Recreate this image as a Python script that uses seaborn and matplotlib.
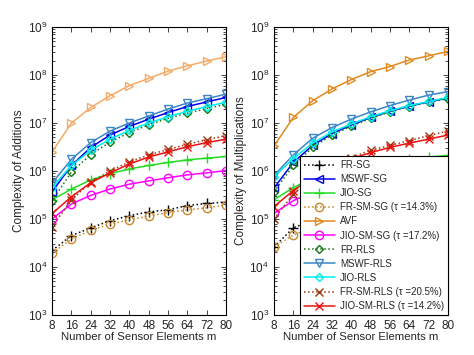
# Import libraries
import numpy as np
import seaborn as sns
import matplotlib
matplotlib.use("Agg")
import matplotlib.pyplot as plt
from matplotlib.ticker import FixedLocator, NullFormatter

# Data
m = [8, 16, 24, 32, 40, 48, 56, 64, 72, 80]

labels = ["FR-SG", "MSWF-SG", "JIO-SG", "FR-SM-SG (\u03c4 =14.3%)", "AVF",
          "JIO-SM-SG (\u03c4 =17.2%)", "FR-RLS", "MSWF-RLS", "JIO-RLS",
          "FR-SM-RLS (\u03c4 =20.5%)", "JIO-SM-RLS (\u03c4 =14.2%)"]

# Complexity of additions
add_fr_sg = [2.2e4, 4.5e4, 6.5e4, 9.2e4, 1.17e5, 1.4e5, 1.55e5, 1.9e5, 2.1e5, 2.25e5]
add_mswf_sg = [3.7e5, 1.3e6, 3.1e6, 5.6e6, 8.5e6, 1.2e7, 1.65e7, 2.2e7, 2.75e7, 3.4e7]
add_jio_sg = [2.5e5, 4.2e5, 6.5e5, 8.8e5, 1.1e6, 1.3e6, 1.5e6, 1.7e6, 1.85e6, 2.0e6]
add_fr_sm_sg = [1.95e4, 3.8e4, 5.8e4, 7.8e4, 9.6e4, 1.15e5, 1.35e5, 1.55e5, 1.7e5, 1.95e5]
add_avf = [2.5e6, 1.0e7, 2.1e7, 3.7e7, 6.0e7, 8.5e7, 1.2e8, 1.55e8, 1.95e8, 2.4e8]
add_jio_sm_sg = [1.0e5, 2.05e5, 3.1e5, 4.2e5, 5.3e5, 6.2e5, 7.2e5, 8.3e5, 9.1e5, 1.02e6]
add_fr_rls = [2.4e5, 9.5e5, 2.2e6, 4.0e6, 6.3e6, 9.2e6, 1.25e7, 1.6e7, 2.0e7, 2.45e7]
add_mswf_rls = [5.6e5, 1.75e6, 3.9e6, 6.8e6, 1.0e7, 1.4e7, 1.95e7, 2.6e7, 3.2e7, 4.0e7]
add_jio_rls = [4.5e5, 1.3e6, 2.7e6, 4.6e6, 7.0e6, 1.0e7, 1.35e7, 1.75e7, 2.2e7, 2.7e7]
add_fr_sm_rls = [6.9e4, 2.5e5, 5.8e5, 1.0e6, 1.55e6, 2.15e6, 2.8e6, 3.6e6, 4.5e6, 5.4e6]
add_jio_sm_rls = [1.3e5, 2.9e5, 5.7e5, 9.1e5, 1.4e6, 1.95e6, 2.5e6, 3.2e6, 3.9e6, 4.6e6]

# Complexity of multiplications
mul_fr_sg = [2.6e4, 6.5e4, 9.5e4, 1.25e5, 1.6e5, 1.9e5, 2.2e5, 2.5e5, 2.8e5, 3.2e5]
mul_mswf_sg = [4.4e5, 1.5e6, 3.4e6, 6.0e6, 9.0e6, 1.3e7, 1.75e7, 2.25e7, 2.75e7, 3.3e7]
mul_jio_sg = [2.5e5, 4.5e5, 7.0e5, 9.5e5, 1.2e6, 1.4e6, 1.6e6, 1.8e6, 1.95e6, 2.1e6]
mul_fr_sm_sg = [2.6e4, 4.6e4, 6.8e4, 8.8e4, 1.07e5, 1.25e5, 1.45e5, 1.65e5, 1.85e5, 2.1e5]
mul_avf = [3.3e6, 1.3e7, 2.9e7, 5.1e7, 8.0e7, 1.17e8, 1.5e8, 2.05e8, 2.5e8, 3.1e8]
mul_jio_sm_sg = [1.3e5, 2.4e5, 3.6e5, 4.8e5, 6.0e5, 7.2e5, 8.4e5, 9.6e5, 1.08e6, 1.2e6]
mul_fr_rls = [3.7e5, 1.3e6, 3.1e6, 5.6e6, 8.5e6, 1.25e7, 1.7e7, 2.2e7, 2.7e7, 3.2e7]
mul_mswf_rls = [8.0e5, 2.15e6, 4.8e6, 8.0e6, 1.2e7, 1.7e7, 2.3e7, 3.0e7, 3.8e7, 4.5e7]
mul_jio_rls = [7.6e5, 1.8e6, 3.8e6, 6.5e6, 9.5e6, 1.35e7, 1.8e7, 2.3e7, 2.8e7, 3.4e7]
mul_fr_sm_rls = [1.0e5, 3.3e5, 7.0e5, 1.2e6, 1.9e6, 2.7e6, 3.4e6, 4.3e6, 5.4e6, 6.8e6]
mul_jio_sm_rls = [1.8e5, 3.9e5, 7.5e5, 1.2e6, 1.8e6, 2.4e6, 3.1e6, 3.8e6, 4.6e6, 5.6e6]

additions = [add_fr_sg, add_mswf_sg, add_jio_sg, add_fr_sm_sg, add_avf, add_jio_sm_sg,
             add_fr_rls, add_mswf_rls, add_jio_rls, add_fr_sm_rls, add_jio_sm_rls]
multiplications = [mul_fr_sg, mul_mswf_sg, mul_jio_sg, mul_fr_sm_sg, mul_avf, mul_jio_sm_sg,
                   mul_fr_rls, mul_mswf_rls, mul_jio_rls, mul_fr_sm_rls, mul_jio_sm_rls]

# Styles per series
colors = ["black", "#0000ee", "#22dd22", "#c8882a", "#e08a20", "#ff00ff",
          "#117711", "#3a86c6", "#00eeee", "#9a3a10", "#ee1111"]
left_colors = list(colors)
left_colors[4] = "#f5aa66"
markers = ["+", "<", "+", "o", ">", "o", "D", "v", "D", "x", "x"]
styles = [":", "-", "-", ":", "-", "-", ":", "-", "-", ":", "-"]
msizes = [7, 6, 7, 6, 6, 6, 4.5, 6, 4.5, 6, 6]

sns.set_style("ticks")
plt.rcParams["font.family"] = ["Liberation Sans", "DejaVu Sans"]
plt.rcParams["mathtext.fontset"] = "custom"
plt.rcParams["mathtext.rm"] = "Liberation Sans"

fig, axes = plt.subplots(1, 2, figsize=(4.74, 3.55), dpi=100)
fig.subplots_adjust(left=0.110, right=0.945, bottom=0.113, top=0.924, wspace=0.275)

panels = [(axes[0], additions, left_colors, "Complexity of Additions"),
          (axes[1], multiplications, colors, "Complexity of Multiplications")]

major_y = [10.0 ** k for k in range(3, 10)]
minor_y = [d * 10.0 ** k for k in range(3, 9) for d in range(2, 10)]

for ax, data, cols, ylab in panels:
    for i in range(len(labels)):
        sns.lineplot(x=m, y=data[i], ax=ax, color=cols[i], linestyle=styles[i],
                     marker=markers[i], markersize=msizes[i], markerfacecolor="none",
                     markeredgecolor=cols[i], markeredgewidth=1.0, linewidth=1.1,
                     label=labels[i], legend=False)
    ax.set_yscale("log")
    ax.set_xlim(8, 80)
    ax.set_ylim(1e3, 1e9)
    ax.set_xticks(m)
    ax.set_yticks(major_y)
    ax.yaxis.set_minor_locator(FixedLocator(minor_y))
    ax.yaxis.set_minor_formatter(NullFormatter())
    ax.set_xlabel("Number of Sensor Elements m", fontsize=8.2, labelpad=0)
    ax.set_ylabel(ylab, fontsize=8.5, labelpad=2)
    ax.tick_params(axis="both", which="both", direction="in", top=True, right=True,
                   labelsize=8.5, width=0.6)
    ax.tick_params(axis="both", which="major", length=3.5)
    ax.tick_params(axis="y", which="minor", length=2)
    for sp in ax.spines.values():
        sp.set_visible(True)
        sp.set_linewidth(0.8)
        sp.set_color("black")

handles, labs = axes[1].get_legend_handles_labels()
leg = axes[1].legend(handles, labs, loc="lower right", bbox_to_anchor=(1.0, 0.0),
                     borderaxespad=0.0, fontsize=7, handlelength=3.2,
                     handletextpad=0.5, labelspacing=0.42, borderpad=0.4,
                     fancybox=False, framealpha=1.0, edgecolor="black")
leg.get_frame().set_linewidth(0.8)

plt.savefig("out.png", dpi=100)
